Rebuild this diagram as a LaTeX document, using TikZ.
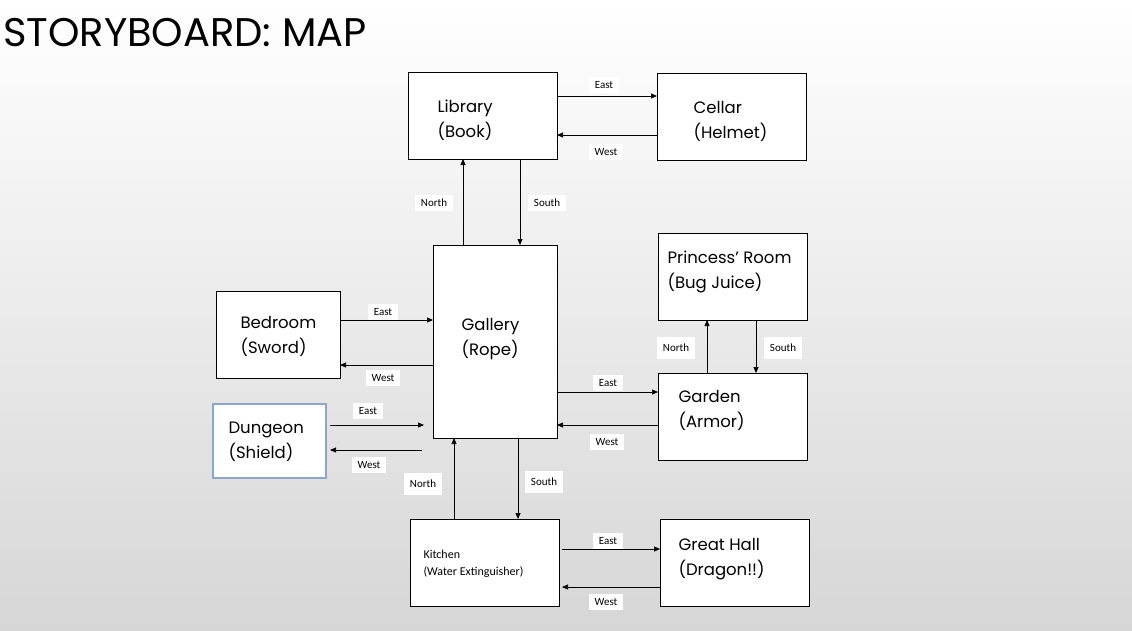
\documentclass[tikz,border=0pt]{standalone}
\usepackage{fontspec}
\setmainfont{Carlito}
\newfontfamily\geo{Poppins}
\usetikzlibrary{arrows.meta}
\begin{document}
\begin{tikzpicture}[x=1pt,y=-1pt,
 room/.style={draw=black,fill=white,inner sep=0pt},
 rtext/.style={font=\geo\fontsize{16.5}{25}\selectfont,align=left,anchor=west},
 lab/.style={fill=white,font=\fontsize{11}{13}\selectfont,inner xsep=6pt,inner ysep=4pt},
 arr/.style={-{Triangle[length=6pt,width=5pt]},line width=0.7pt}]
\shade[top color=white,bottom color=white!84!black] (0,0) rectangle (1132,630);
\useasboundingbox (0,0) rectangle (1132,630);
\node[anchor=west,inner sep=0pt,font=\geo\fontsize{40}{42}\selectfont] (title) at (3,33) {STORYBOARD: MAP};
% rooms
\draw[room] (408,72) rectangle (557,159);
\node[rtext] (lib) at (434,120) {Library\\(Book)};
\draw[room] (657,73) rectangle (806,160);
\node[rtext] (cel) at (690,121) {Cellar\\(Helmet)};
\draw[room] (433,245) rectangle (557,438);
\node[rtext] (gal) at (458,339) {Gallery\\(Rope)};
\draw[room] (216,291) rectangle (340,378);
\node[rtext] (bed) at (237,336) {Bedroom\\(Sword)};
\draw[room,draw={rgb,255:red,140;green,165;blue,200},line width=1.2pt] (213,404) rectangle (326,478);
\node[rtext] (dun) at (225,442) {Dungeon\\(Shield)};
\draw[room] (658,233) rectangle (807,320);
\node[rtext] (pri) at (664,272) {Princess’ Room\\(Bug Juice)};
\draw[room] (658,373) rectangle (807,460);
\node[rtext] (gar) at (675,410) {Garden\\(Armor)};
\draw[room] (410,519) rectangle (559,606);
\node[anchor=west,align=left,font=\fontsize{12}{17}\selectfont] (kit) at (420,564) {Kitchen\\(Water Extinguisher)};
\draw[room] (660,519) rectangle (809,606);
\node[rtext] (gh) at (675,559) {Great Hall\\(Dragon!!)};
% coordinates
\foreach \n/\x/\y in {a1/557/96,a2/657/96,b1/657/135,b2/557/135,
 c1/463/245,c2/463/159,d1/520/159,d2/520/245,
 e1/340/320,e2/433/320,f1/433/365,f2/340/365,
 g1/330/425,g2/424/425,h1/422/450,h2/330/450,
 i1/557/392,i2/658/392,j1/658/425,j2/557/425,
 k1/707/373,k2/707/320,l1/756/320,l2/756/373,
 m1/454/519,m2/454/438,n1/518/438,n2/518/519,
 o1/562/549,o2/660/549,p1/660/587,p2/562/587}
 \coordinate (\n) at (\x,\y);
\foreach \s/\t in {a1/a2,b1/b2,c1/c2,d1/d2,e1/e2,f1/f2,g1/g2,h1/h2,i1/i2,j1/j2,k1/k2,l1/l2,m1/m2,n1/n2,o1/o2,p1/p2}
 \draw[arr] (\s) -- (\t);
% labels
\node[lab] (la) at (604,85) {East};
\node[lab] (lb) at (606,152) {West};
\node[lab] (lc) at (434,203) {North};
\node[lab] (ld) at (547,203) {South};
\node[lab] (le) at (383,312) {East};
\node[lab] (lf) at (383,378) {West};
\node[lab] (lg) at (368,411) {East};
\node[lab] (lh) at (369,465) {West};
\node[lab,inner ysep=7pt] (li) at (423,484) {North};
\node[lab,inner ysep=7pt] (lj) at (544,482) {South};
\node[lab] (lk) at (608,383) {East};
\node[lab] (ll) at (607,442) {West};
\node[lab,inner ysep=7pt] (lm) at (676,348) {North};
\node[lab,inner ysep=7pt] (ln) at (783,348) {South};
\node[lab] (lo) at (608,541) {East};
\node[lab] (lp) at (606,602) {West};
\end{tikzpicture}
\end{document}
